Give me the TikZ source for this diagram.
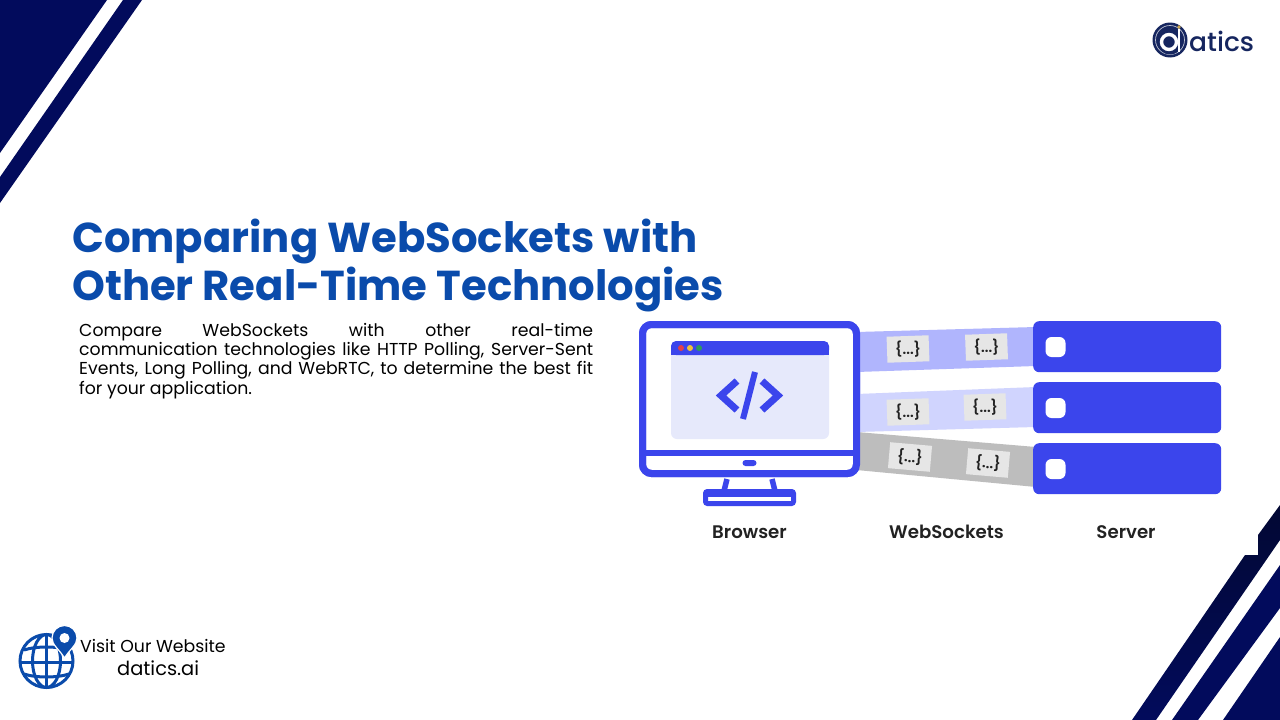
\documentclass[tikz,border=0pt]{standalone}
\usepackage{fontspec}
\setmainfont{Poppins}
\newfontfamily\labelfont{Poppins SemiBold}
\newfontfamily\logofont{Poppins Medium}
\usetikzlibrary{calc}
\definecolor{navy}{HTML}{020B5C}
\definecolor{navydark}{HTML}{020833}
\definecolor{logonavy}{HTML}{16265F}
\definecolor{titleblue}{HTML}{0A4BAB}
\definecolor{royal}{HTML}{3B45EC}
\definecolor{winlight}{HTML}{E6E9FB}
\definecolor{bandA}{HTML}{B0B5FD}
\definecolor{bandB}{HTML}{D0D4FE}
\definecolor{bandC}{HTML}{BDBDBD}
\definecolor{tile}{HTML}{E6E6E6}
\definecolor{ink}{HTML}{222222}
\definecolor{dotr}{HTML}{E0404A}
\definecolor{doty}{HTML}{EEC23A}
\definecolor{dotg}{HTML}{2E9A5C}
\definecolor{gold}{HTML}{C9A24A}
\tikzset{
  txt/.style={inner sep=0pt,anchor=base west,text=black},
  caption/.style={inner sep=0pt,anchor=base,text=ink,font=\labelfont\fontsize{18.2}{20}\selectfont},
  serverbox/.style={fill=royal,rounded corners=6pt,minimum width=188pt,minimum height=51pt,inner sep=0pt,anchor=north west},
  led/.style={fill=white,rounded corners=6pt,minimum width=20pt,minimum height=20pt,inner sep=0pt},
  payload/.style={fill=tile,minimum width=42pt,minimum height=26pt,inner sep=0pt,text=ink,font=\labelfont\fontsize{14.5}{16}\selectfont},
}
\begin{document}
\begin{tikzpicture}[x=1pt,y=-1pt]
\useasboundingbox (0,0) rectangle (1280,720);
\fill[white] (0,0) rectangle (1280,720);
% corner bands
\fill[navy] (0,0) -- (107,0) -- (0,153) -- cycle;
\fill[navy] (123,0) -- (142,0) -- (0,203) -- (0,177) -- cycle;
\shade[top color=navydark,bottom color=navy] (1132,720) -- (1245,555) -- (1258,555) -- (1258,535) -- (1280,505) -- (1280,540) -- (1156,720) -- cycle;
\fill[navy] (1172,720) -- (1280,565) -- (1280,608) -- (1198,720) -- cycle;
\fill[navy] (1223,720) -- (1280,637) -- (1280,720) -- cycle;
% title and text
\node[txt,text=titleblue,font=\bfseries\fontsize{41.8}{48}\selectfont] (t1) at (72,252) {Comparing WebSockets with};
\node[txt,text=titleblue,font=\bfseries\fontsize{41.8}{48}\selectfont] (t2) at (72,300) {Other Real-Time Technologies};
\node[inner sep=0pt,anchor=north west,text width=514pt,align=justify,font=\fontsize{17.3}{19.3}\selectfont] (body) at (79,323)
 {\hyphenpenalty=10000 Compare WebSockets with other real-time\linebreak communication technologies like HTTP Polling, Server-Sent\linebreak Events, Long Polling, and WebRTC, to determine the best fit\linebreak for your application.};
% monitor
\node[minimum width=214pt,minimum height=149pt,inner sep=0pt,outer sep=0pt,draw=royal,line width=7pt,rounded corners=9pt,fill=white] (mon) at (749.5,399) {};
% bands
\fill[bandA] (mon.east |- 0,332) -- (1036,327) -- (1036,366) -- (mon.east |- 0,372) -- cycle;
\fill[bandB] (mon.east |- 0,394) -- (1036,387) -- (1036,427) -- (mon.east |- 0,432) -- cycle;
\fill[bandC] (mon.east |- 0,432) -- (1036,447) -- (1036,487) -- (mon.east |- 0,470) -- cycle;
\draw[draw=royal,line width=7pt,rounded corners=9pt] (mon.south west) rectangle (mon.north east);
\draw[royal,line width=6pt] (mon.west |- 0,453) -- (mon.east |- 0,453);
\fill[royal,rounded corners=3pt] (742.5,460) rectangle (756.5,466);
\draw[royal,line width=5.5pt] (727,479) -- (724,491);
\draw[royal,line width=5.5pt] (772,479) -- (775,491);
\draw[royal,line width=5pt,rounded corners=2pt,fill=white] (705.5,491.5) rectangle (793.5,503.5);
\fill[royal] (705.5,491.5) rectangle (793.5,496.5);
% window
\fill[winlight,rounded corners=6pt] (671,341) rectangle (829,439);
\fill[royal,rounded corners=5pt] (671,355) |- (829,341) -- (829,355) -- cycle;
\fill[royal] (671,350) rectangle (829,355);
\fill[dotr] (681,348) circle (3);
\fill[doty] (690,348) circle (3);
\fill[dotg] (699,348) circle (3);
\draw[royal,line width=7pt,line join=miter] (737,381) -- (721,395.5) -- (737,410);
\draw[royal,line width=7pt,line join=miter] (762,381) -- (778,395.5) -- (762,410);
\draw[royal,line width=6pt] (755,372) -- (743,419);
% servers
\node[serverbox] (s1) at (1033,321) {};
\node[serverbox] (s2) at (1033,382) {};
\node[serverbox] (s3) at (1033,443) {};
\node[led] (l1) at (1055.5,347) {};
\node[led] (l2) at (1055.5,408) {};
\node[led] (l3) at (1055.5,469) {};
% payload tiles
\node[payload,rotate=2] (p1) at (908,349) {\{...\}};
\node[payload,rotate=2] (p2) at (986.5,347) {\{...\}};
\node[payload,rotate=2] (p3) at (908,412) {\{...\}};
\node[payload,rotate=2] (p4) at (985,407) {\{...\}};
\node[payload,rotate=-5] (p5) at (910,457) {\{...\}};
\node[payload,rotate=-5] (p6) at (988,463) {\{...\}};
% captions
\node[caption] (c1) at (749.5,538) {Browser};
\node[caption] (c2) at (946.5,538) {WebSockets};
\node[caption] (c3) at (1126,538) {Server};
% logo
\fill[logonavy] (1170,40) circle (17.5);
\draw[white!70!logonavy,line width=0.7pt] (1170,40) circle (14.5);
\fill[logonavy] (1170,42) circle (12.5);
\draw[white,line width=3.4pt] (1169,42) circle (7.5);
\draw[white,line width=2.8pt] (1179,29) -- (1179,52);
\fill[gold] (1179,27) circle (1.8);
\node[inner sep=0pt,anchor=base west,text=logonavy,font=\logofont\fontsize{26.5}{30}\selectfont] (lg) at (1189,51) {atics};
% globe
\begin{scope}[titleblue,line width=3pt]
\draw (46.5,661) circle (26.5);
\draw (46.5,661) ellipse (14 and 26.5);
\draw (46.5,634.5) -- (46.5,687.5);
\draw (20,662) -- (73,662);
\draw (24,650) .. controls (36,646) and (57,646) .. (69,650);
\draw (24,674) .. controls (36,678) and (57,678) .. (69,674);
\end{scope}
\fill[titleblue,draw=white,line width=1.2pt] (64.5,658) .. controls (59,649) and (52,645) .. (52,638) arc[start angle=180,end angle=0,x radius=12.5,y radius=-12.5] .. controls (77,645) and (70,649) .. (64.5,658) -- cycle;
\fill[white] (64.5,638) circle (5);
\node[txt,font=\fontsize{17.3}{20}\selectfont] (v1) at (80,652) {Visit Our Website};
\node[txt,font=\fontsize{19.4}{24}\selectfont] (v2) at (117,675) {datics.ai};
\end{tikzpicture}
\end{document}
